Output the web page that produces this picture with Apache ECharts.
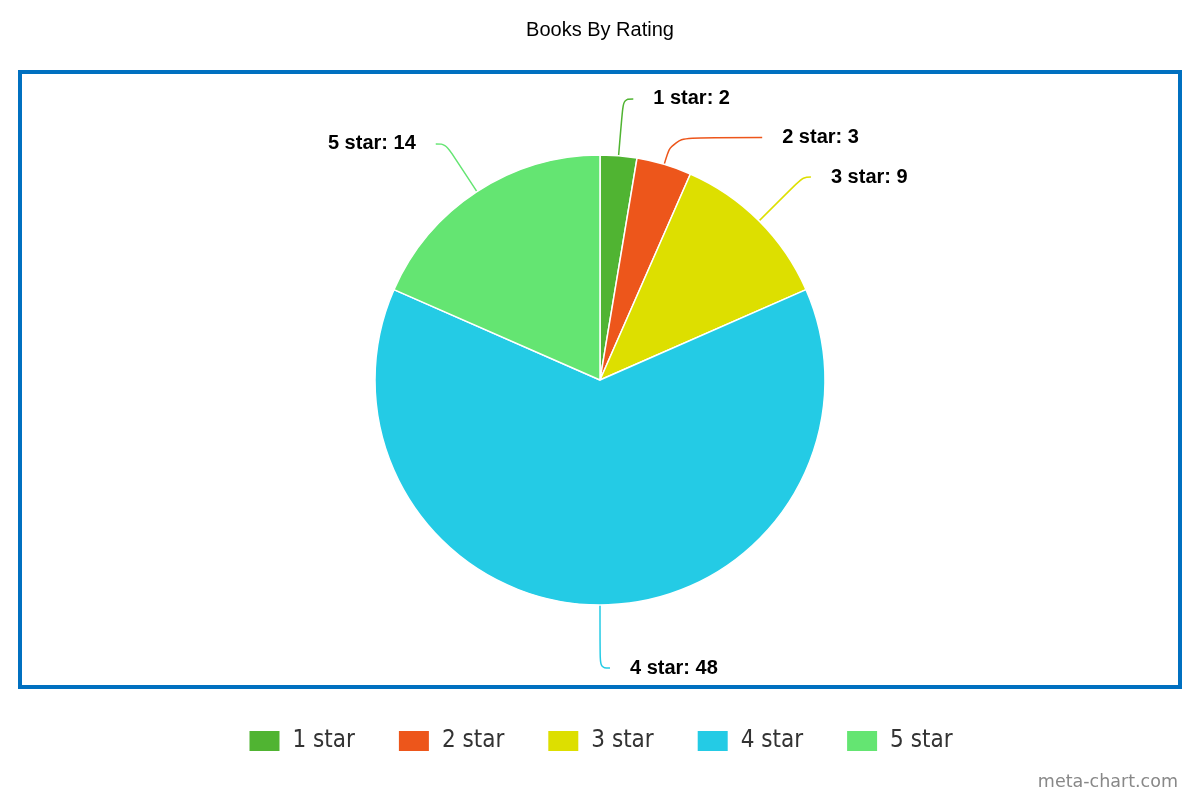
<!DOCTYPE html>
<html>
<head>
<meta charset="utf-8">
<script src="https://cdn.jsdelivr.net/npm/echarts@6/dist/echarts.min.js"></script>
<style>html,body{margin:0;padding:0;background:#fff}#c{width:1200px;height:800px}</style>
</head>
<body>
<div id="c"></div>
<script>
const categories = ['1 star', '2 star', '3 star', '4 star', '5 star'];
const counts = [2, 3, 9, 48, 14];
const colors = ['#50B432', '#ED561B', '#DDDF00', '#24CBE5', '#64E572'];

// label-line geometry tweaks per slice (style only)
const lineTweaks = {
  '2 star': { length: 28, length2: 90 },
  '3 star': { length: 62, length2: 8 },
  '4 star': { length: 63, length2: 10 }
};

const chart = echarts.init(document.getElementById('c'));
chart.setOption({
  backgroundColor: '#fff',
  animation: false,
  title: {
    text: 'Books By Rating',
    left: 'center',
    top: 15,
    textStyle: { fontFamily: 'Liberation Sans, Arial', fontSize: 20, fontWeight: 'normal', color: '#000' }
  },
  graphic: [
    { type: 'rect', shape: { x: 20, y: 72, width: 1160, height: 615 },
      style: { fill: 'none', stroke: '#0070C0', lineWidth: 4 }, z: 0 },
    { type: 'text', right: 22, top: 773,
      style: { text: 'meta-chart.com', fontFamily: 'DejaVu Sans', fontSize: 17.5, fill: '#888' } }
  ],
  legend: {
    bottom: 42,
    left: 'center',
    itemWidth: 32,
    itemHeight: 22,
    itemGap: 42,
    icon: 'rect',
    textStyle: { fontFamily: 'DejaVu Sans Condensed, DejaVu Sans', fontSize: 24, color: '#333', padding: [0, 0, 0, 7] },
    data: categories
  },
  series: [{
    type: 'pie',
    center: [600, 380],
    radius: 225,
    startAngle: 90,
    clockwise: true,
    color: colors,
    itemStyle: { borderColor: '#fff', borderWidth: 1.5 },
    label: {
      formatter: '{b}: {c}',
      fontFamily: 'Liberation Sans, Arial',
      fontWeight: 'bold',
      fontSize: 20,
      color: '#000',
      distanceToLabelLine: 20
    },
    labelLine: { length: 57, length2: 10, smooth: 0.4, lineStyle: { width: 1.5 } },
    data: categories.map((n, i) => {
      const d = { name: n, value: counts[i] };
      if (lineTweaks[n]) d.labelLine = lineTweaks[n];
      return d;
    })
  }]
});
</script>
</body>
</html>
